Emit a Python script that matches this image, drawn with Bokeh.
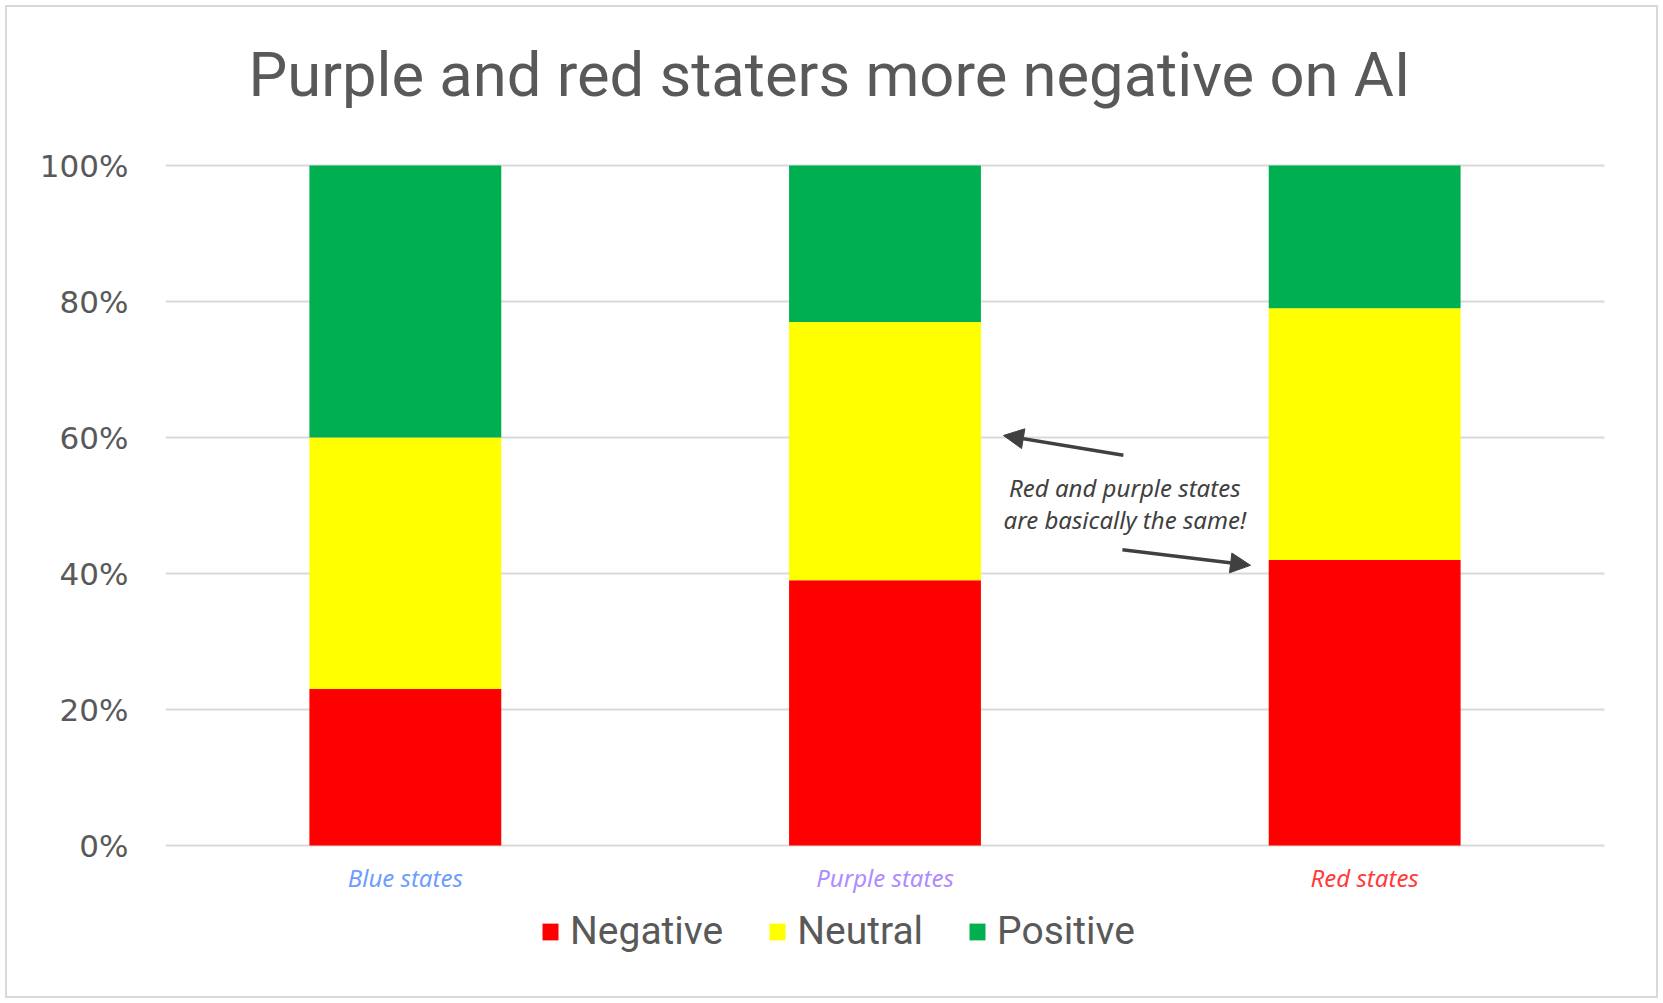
from bokeh.plotting import figure
from bokeh.models import (ColumnDataSource, Range1d, FixedTicker, PrintfTickFormatter,
                          Legend, LegendItem, Label, LabelSet, Arrow, NormalHead)
from bokeh.core.properties import value
from bokeh.embed import file_html
from bokeh.resources import INLINE

# ---- data -------------------------------------------------------------
TITLE = "Purple and red staters more negative on AI"
GROUPS = ["Blue states", "Purple states", "Red states"]
GROUP_COLORS = ["#6E9CFF", "#AE8CFF", "#FF3B3B"]
SERIES = ["Negative", "Neutral", "Positive"]
SERIES_COLORS = ["#FF0000", "#FFFF00", "#00B050"]
NEGATIVE = [23, 39, 42]
NEUTRAL = [37, 38, 37]
POSITIVE = [40, 23, 21]
Y_TICKS = [0, 20, 40, 60, 80, 100]
NOTE = "Red and purple states\nare basically the same!"
# callout text and arrows, on the group-index / percent scales
NOTE_POS = (2.0, 50.3)
ARROWS = [(1.997, 57.4, 1.747, 60.3), (1.995, 43.5, 2.262, 41.2)]

TEXT_GREY = "#595959"
GRID_GREY = "#D9D9D9"
W, H = 1663, 1003
LEFT = 165                      # width of the y-axis panel
PX_PER_GROUP = 479.667          # horizontal room given to each group
PX_PER_PCT = 6.8                # vertical pixels per percentage point
ZERO_FROM_BOTTOM = 158          # pixels from bottom edge to the 0% line

x_pos = [i + 0.5 for i in range(len(GROUPS))]
source = ColumnDataSource(dict(x=x_pos, group=GROUPS, Negative=NEGATIVE,
                               Neutral=NEUTRAL, Positive=POSITIVE))

x_end = (W - LEFT) / PX_PER_GROUP
y_start = -ZERO_FROM_BOTTOM / PX_PER_PCT
y_end = y_start + H / PX_PER_PCT

p = figure(width=W, height=H,
           x_range=Range1d(0, x_end), y_range=Range1d(y_start, y_end),
           output_backend="svg", toolbar_location=None,
           min_border_left=LEFT, min_border_right=0,
           min_border_top=0, min_border_bottom=0,
           styles={"outline": "2px solid #D9D9D9", "outline-offset": "-7px"})
p.outline_line_color = None
p.background_fill_alpha = 0
p.border_fill_alpha = 0

bars = p.vbar_stack(SERIES, x="x", width=0.4, color=SERIES_COLORS,
                    line_color=None, source=source)

# axes and grid
p.xaxis.visible = False
p.xgrid.grid_line_color = None
p.ygrid.ticker = FixedTicker(ticks=Y_TICKS)
p.ygrid.grid_line_color = GRID_GREY
p.ygrid.grid_line_width = 2
p.ygrid.cross_bounds = (0, len(GROUPS))

yax = p.yaxis[0]
yax.ticker = FixedTicker(ticks=Y_TICKS)
yax.formatter = PrintfTickFormatter(format="%d%%")
yax.axis_line_color = None
yax.major_tick_line_color = None
yax.minor_tick_line_color = None
yax.major_tick_out = 0
yax.major_tick_in = 0
yax.major_label_standoff = 37
yax.major_label_text_font = "DejaVu Sans"
yax.major_label_text_font_size = "31px"
yax.major_label_text_color = TEXT_GREY

# coloured group labels under the bars
cat_src = ColumnDataSource(dict(x=x_pos, y=[0] * len(GROUPS), text=GROUPS,
                                color=GROUP_COLORS))
p.add_layout(LabelSet(x="x", y="y", text="text", source=cat_src,
                      text_color="color", y_offset=-32, text_align="center",
                      text_baseline="middle", text_font=value("Noto Sans"),
                      text_font_style=value("italic"),
                      text_font_size=value("24px")))

# title
p.add_layout(Label(x=829, y=74, x_units="canvas", y_units="canvas", text=TITLE,
                   text_align="center", text_baseline="alphabetic",
                   text_font="Roboto", text_font_size="61.5px",
                   text_color=TEXT_GREY))

# callout
p.add_layout(Label(x=NOTE_POS[0], y=NOTE_POS[1], text=NOTE, text_align="center",
                   text_baseline="middle", text_font="Noto Sans",
                   text_font_style="italic", text_font_size="24px",
                   text_line_height=0.95, text_color="#404040"))
for xs, ys, xe, ye in ARROWS:
    p.add_layout(Arrow(x_start=xs, y_start=ys, x_end=xe, y_end=ye,
                       line_color="#404040", line_width=3.5,
                       end=NormalHead(size=20, fill_color="#404040",
                                      line_color="#404040", line_width=1)))

# legend
legend = Legend(items=[LegendItem(label=s, renderers=[r]) for s, r in zip(SERIES, bars)],
                orientation="horizontal", location=(375, 49),
                glyph_width=20, glyph_height=21, label_standoff=10, spacing=44,
                padding=0, margin=0, border_line_color=None,
                background_fill_alpha=0, label_text_font="Roboto",
                label_text_font_size="39px", label_text_color=TEXT_GREY)
p.add_layout(legend, "center")

open("out.html", "w").write(file_html(p, INLINE))
